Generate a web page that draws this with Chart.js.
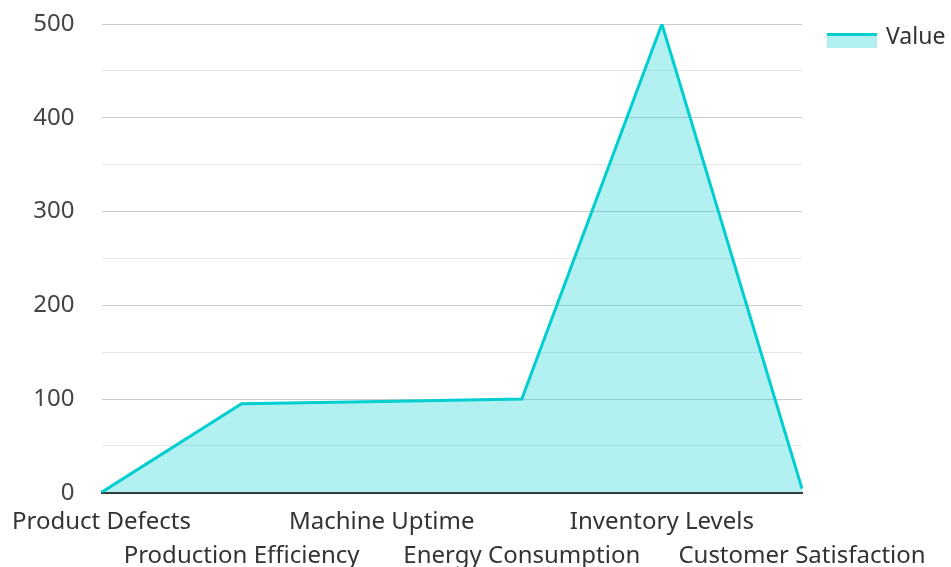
<!DOCTYPE html>
<html>
<head>
<meta charset="utf-8">
<script src="https://cdn.jsdelivr.net/npm/chart.js@4/dist/chart.umd.min.js"></script>
<style>
html,body{margin:0;padding:0;background:#fff;}
#wrap{width:951px;height:567px;position:relative;}
</style>
</head>
<body>
<div id="wrap"><canvas id="c" width="951" height="567"></canvas></div>
<script>
const categories = ["Product Defects","Production Efficiency","Machine Uptime","Energy Consumption","Inventory Levels","Customer Satisfaction"];
const values = [0.5, 95, 97.5, 100, 500, 4.5];
const seriesName = "Value";
const yTicks = [0, 100, 200, 300, 400, 500];

const lineColor = "#00CED1";
const fillColor = "rgba(0,206,209,0.3)";

const legendPlugin = {
  id: 'customLegend',
  afterDraw(chart) {
    const ctx = chart.ctx;
    const a = chart.chartArea;
    const x = a.right + 25, y = a.top + 9;
    ctx.save();
    ctx.fillStyle = fillColor;
    ctx.fillRect(x, y, 50, 15);
    ctx.fillStyle = lineColor;
    ctx.fillRect(x, y, 50, 3);
    ctx.font = '23px "Noto Sans"';
    ctx.fillStyle = '#333';
    ctx.textBaseline = 'middle';
    ctx.fillText(seriesName, x + 59, y + 4);
    ctx.restore();
  }
};

new Chart(document.getElementById('c'), {
  type: 'line',
  data: {
    labels: categories,
    datasets: [{
      label: seriesName,
      data: values,
      borderColor: lineColor,
      backgroundColor: fillColor,
      borderWidth: 3,
      fill: 'origin',
      pointRadius: 0,
      tension: 0
    }]
  },
  options: {
    responsive: false,
    animation: false,
    layout: { padding: { top: 24, right: 149, left: 0, bottom: -18 } },
    plugins: { legend: { display: false }, tooltip: { enabled: false } },
    scales: {
      x: {
        offset: false,
        grid: { display: false, drawTicks: false },
        border: { display: true, color: '#333', width: 2 },
        ticks: {
          autoSkip: false, maxRotation: 0, minRotation: 0,
          padding: 12,
          color: '#333',
          font: { family: '"Noto Sans"', size: 24, lineHeight: 1.42 },
          callback: function(v, i) { return i % 2 === 0 ? [categories[i], ''] : ['', categories[i]]; }
        }
      },
      y: {
        min: 0, max: 500,
        border: { display: false },
        afterFit: function(s) { s.paddingTop = 0; },
        grid: {
          drawTicks: false,
          color: (c) => (c.tick && c.tick.value % 100 === 0) ? '#cccccc' : '#e8e8e8',
          lineWidth: 1
        },
        ticks: {
          stepSize: 50,
          padding: 27,
          color: '#444',
          font: { family: '"Noto Sans"', size: 24 },
          callback: function(v) { return yTicks.includes(v) ? String(v) : ''; }
        }
      }
    }
  },
  plugins: [legendPlugin]
});
</script>
</body>
</html>
